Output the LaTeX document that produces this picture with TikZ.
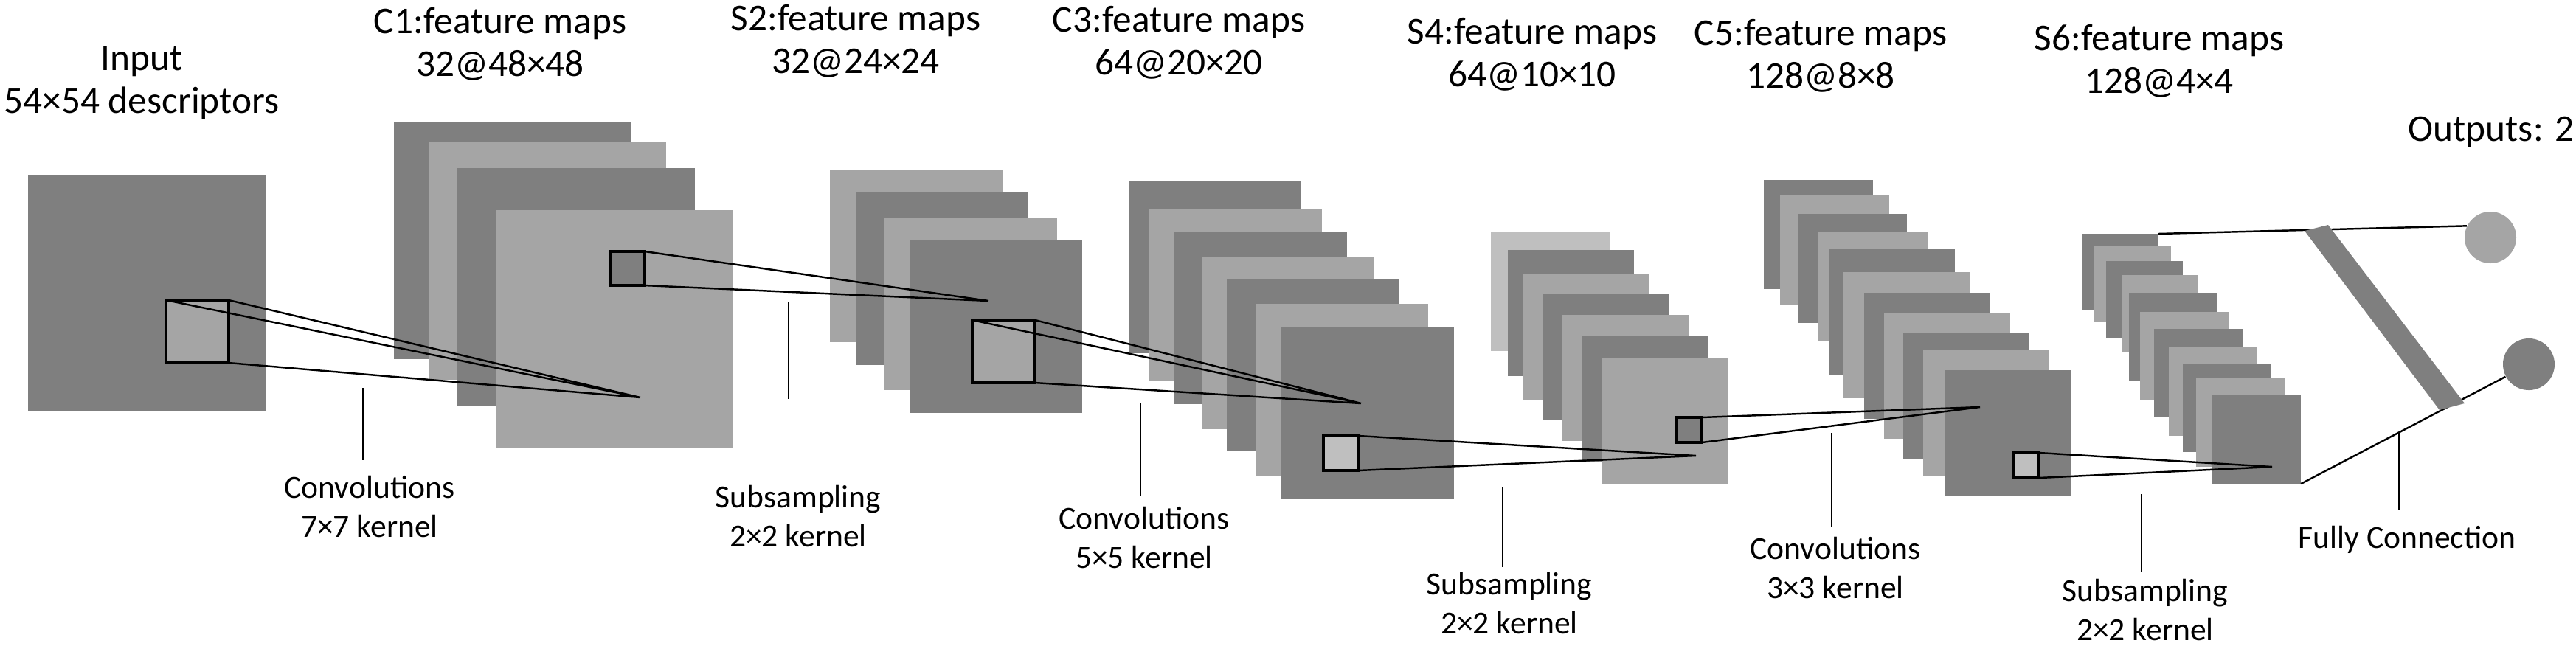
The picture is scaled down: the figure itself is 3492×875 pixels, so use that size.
\documentclass[tikz,border=0pt]{standalone}
\usepackage{fontspec}
\setmainfont{Carlito}
\usepackage{tikz}
\usetikzlibrary{positioning}
\definecolor{mapdark}{HTML}{7F7F7F}
\definecolor{maplight}{HTML}{A5A5A5}
\definecolor{mappale}{HTML}{BFBFBF}
\tikzset{
  fmap/.style={fill=#1, inner sep=0pt, outer sep=0pt, anchor=north west},
  kern/.style={draw=black, line width=0.9pt, fill=#1, inner sep=0pt, outer sep=0pt, anchor=north west},
  ray/.style={line width=0.7pt},
  lead/.style={line width=0.6pt},
  head/.style={align=center, font=\fontsize{14.6}{16.6}\selectfont},
  lab/.style={align=center, inner sep=0pt, font=\fontsize{12.4}{14.8}\selectfont},
  unit/.style={circle, inner sep=0pt, minimum size=0.7cm, fill=#1}
}
\begin{document}
\begin{tikzpicture}[x=0.01cm, y=-0.01cm]
\useasboundingbox (0,0) rectangle (3492,875);
\node[fmap=mapdark, minimum width=3.22cm, minimum height=3.21cm] (input) at (38,237) {};
\node[kern=maplight, minimum size=0.85cm] (k0) at (225,407) {};
\foreach \x/\y/\c [count=\i] in {534/165/mapdark, 581/193/maplight, 620/228/mapdark, 672/285/maplight}
  \node[fmap=\c, minimum size=3.22cm] (c1-\i) at (\x,\y) {};
\node[kern=mapdark, minimum size=0.46cm] (k1) at (828,341) {};
\foreach \x/\y/\c [count=\i] in {1125/230/maplight, 1160/261/mapdark, 1199/295/maplight, 1233/326/mapdark}
  \node[fmap=\c, minimum size=2.34cm] (s2-\i) at (\x,\y) {};
\node[kern=maplight, minimum size=0.85cm] (k2) at (1318,434) {};
\foreach \x/\y/\c [count=\i] in {1530/245/mapdark, 1558/283/maplight, 1592/314/mapdark, 1629/348/maplight, 1663/378/mapdark, 1702/412/maplight, 1737/443/mapdark}
  \node[fmap=\c, minimum size=2.34cm] (c3-\i) at (\x,\y) {};
\node[kern=mappale, minimum size=0.47cm] (k3) at (1794,591) {};
\foreach \x/\y/\c/\s [count=\i] in {2021/314/mappale/1.62, 2044/339/mapdark/1.71, 2064/371/maplight/1.71, 2091/398/mapdark/1.71, 2118/427/maplight/1.71, 2145/455/mapdark/1.71, 2171/485/maplight/1.71}
  \node[fmap=\c, minimum size=\s cm] (s4-\i) at (\x,\y) {};
\node[kern=mapdark, minimum size=0.34cm] (k4) at (2273,566) {};
\foreach \x/\y/\c/\s [count=\i] in {2391/244/mapdark/1.48, 2413/265/maplight/1.48, 2437/290/mapdark/1.48, 2465/314/maplight/1.48, 2479/338/mapdark/1.71, 2499/369/maplight/1.71, 2527/397/mapdark/1.71, 2554/424/maplight/1.71, 2580/452/mapdark/1.71, 2607/474/maplight/1.71, 2636/502/mapdark/1.71}
  \node[fmap=\c, minimum size=\s cm] (c5-\i) at (\x,\y) {};
\node[kern=mappale, minimum size=0.34cm] (k5) at (2730,614) {};
\foreach \x/\y/\c/\s [count=\i] in {2822/317/mapdark/1.04, 2839/333/maplight/1.04, 2855/354/mapdark/1.04, 2876/373/maplight/1.04, 2886/397/mapdark/1.2, 2901/423/maplight/1.2, 2920/446/mapdark/1.2, 2940/471/maplight/1.2, 2959/493/mapdark/1.2, 2977/513/maplight/1.2, 2999/536/mapdark/1.2}
  \node[fmap=\c, minimum size=\s cm] (s6-\i) at (\x,\y) {};
\coordinate (a1) at (868,539);
\coordinate (a2) at (1340,408);
\coordinate (a3) at (1845,547);
\coordinate (a4) at (2299,618);
\coordinate (a5) at (2684,552);
\coordinate (a6) at (3080,633);
\draw[ray] (k0.north west) -- (a1) (k0.north east) -- (a1) (k0.south east) -- (a1);
\draw[ray] (k1.north east) -- (a2) (k1.south east) -- (a2);
\draw[ray] (k2.north west) -- (a3) (k2.north east) -- (a3) (k2.south east) -- (a3);
\draw[ray] (k3.north east) -- (a4) (k3.south east) -- (a4);
\draw[ray] (k4.north east) -- (a5) (k4.south east) -- (a5);
\draw[ray] (k5.north east) -- (a6) (k5.south east) -- (a6);
\node[unit=maplight] (o1) at (3376,322) {};
\node[unit=mapdark] (o2) at (3428,494) {};
\draw[ray] (s6-1.north east) -- (o1.154);
\draw[ray] (s6-11.south east) -- (o2.208);
\fill[mapdark] (3124,313) -- (3156,305) -- (3341,547) -- (3307,556) -- cycle;
\node[head] (hin) at (192,112) {Input\\54×54 descriptors};
\node[head] (hc1) at (678,60) {C1:feature maps\\32@48×48};
\node[head] (hs2) at (1160,56) {S2:feature maps\\32@24×24};
\node[head] (hc3) at (1598,58) {C3:feature maps\\64@20×20};
\node[head] (hs4) at (2077,74) {S4:feature maps\\64@10×10};
\node[head] (hc5) at (2468,76) {C5:feature maps\\128@8×8};
\node[head] (hs6) at (2927,83) {S6:feature maps\\128@4×4};
\node[head] (hout) at (3377,179) {Outputs: 2};
\node[lab] (l1) at (501,687) {Convolutions\\7×7 kernel};
\node[lab] (l2) at (1082,700) {Subsampling\\2×2 kernel};
\node[lab] (l3) at (1551,729) {Convolutions\\5×5 kernel};
\node[lab] (l4) at (2046,818) {Subsampling\\2×2 kernel};
\node[lab] (l5) at (2488,770) {Convolutions\\3×3 kernel};
\node[lab] (l6) at (2908,827) {Subsampling\\2×2 kernel};
\node[lab] (l7) at (3263,732) {Fully Connection};
\foreach \i/\x/\ya/\yb in {1/492/526/624, 2/1069/410/541, 3/1546/547/672, 4/2037/660/769, 5/2483/587/714, 6/2903/670/776, 7/3252/586/692}
{
  \coordinate (t\i) at (\x,\ya);
  \coordinate (b\i) at (\x,\yb);
  \draw[lead] (t\i) -- (b\i);
}
\end{tikzpicture}
\end{document}
